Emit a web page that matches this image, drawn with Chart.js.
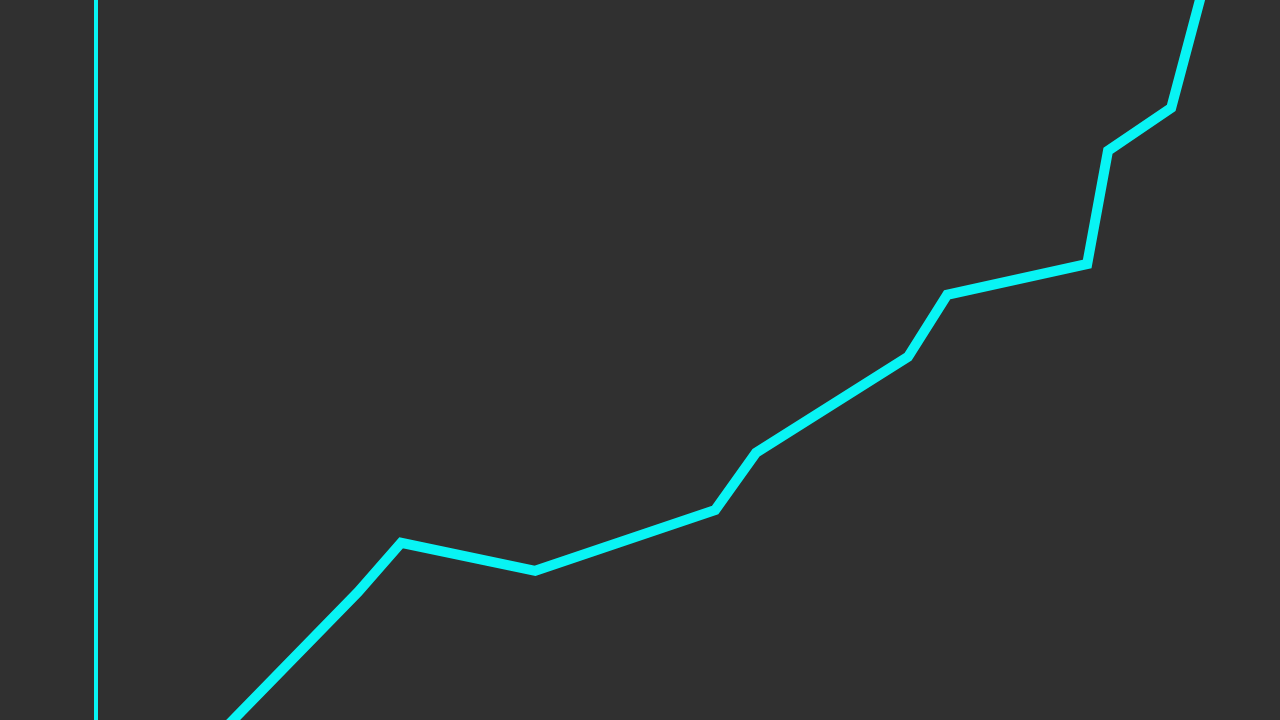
<!DOCTYPE html>
<html>
<head>
<meta charset="utf-8">
<script src="https://cdn.jsdelivr.net/npm/chart.js@4/dist/chart.umd.min.js"></script>
<style>
  html, body { margin: 0; padding: 0; background: #303030; }
  #wrap { width: 1280px; height: 720px; position: relative; }
</style>
</head>
<body>
<div id="wrap"><canvas id="growthChart"></canvas></div>
<script>
// values (x: 0..32, y: 0..18), the ends run past the frame
const xValues = [4.95, 8.95, 10.03, 13.38, 17.88, 18.9, 22.7, 23.68, 27.18, 27.7, 29.28, 30.25];
const yValues = [-0.9, 3.2, 4.43, 3.73, 5.25, 6.68, 9.08, 10.63, 11.4, 14.23, 15.3, 18.95];
const xRange = [0, 32];
const yRange = [0, 18];
const axisAt = 2.4; // where the vertical axis line sits

const lineColor = "#08f4f4";

const points = xValues.map((x, i) => ({ x: x, y: yValues[i] }));

const ctx = document.getElementById("growthChart").getContext("2d");
new Chart(ctx, {
  type: "line",
  data: {
    datasets: [{
      data: points,
      borderColor: lineColor,
      borderWidth: 10,
      borderJoinStyle: "miter",
      tension: 0,
      pointRadius: 0,
      fill: false
    }]
  },
  options: {
    responsive: true,
    maintainAspectRatio: false,
    animation: false,
    layout: { padding: 0 },
    plugins: {
      legend: { display: false },
      tooltip: { enabled: false }
    },
    scales: {
      x: {
        type: "linear",
        min: xRange[0],
        max: xRange[1],
        display: false
      },
      y: {
        type: "linear",
        min: yRange[0],
        max: yRange[1],
        position: { x: axisAt },
        ticks: { display: false },
        grid: { display: false, drawTicks: false },
        border: { display: true, color: lineColor, width: 4 }
      }
    }
  }
});
</script>
</body>
</html>
